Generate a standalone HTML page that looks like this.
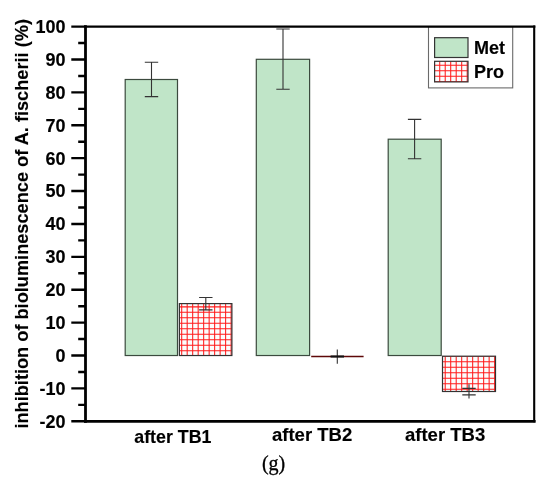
<!DOCTYPE html>
<html><head><meta charset="utf-8">
<style>
html,body{margin:0;padding:0;background:#fff;}
svg{display:block;}
.t{font-family:"Liberation Sans",Arial,sans-serif;font-weight:bold;fill:#000;stroke:#000;stroke-width:0.15px;}
</style></head>
<body>
<svg width="550" height="483" viewBox="0 0 550 483">
<defs>
<clipPath id="ctb1"><rect x="179.4" y="303.6" width="52.50" height="51.92"/></clipPath>
<clipPath id="ctb3"><rect x="442.5" y="356.2" width="53.00" height="35.30"/></clipPath>
<clipPath id="cleg"><rect x="434.6" y="61.3" width="33.40" height="20.60"/></clipPath>
</defs>
<rect width="550" height="483" fill="#fff"/>

<!-- Met bars -->
<g stroke="#3b4a3e" stroke-width="1.2" fill="#c0e5c8">
<rect x="125.2" y="79.5" width="52.3" height="276.02"/>
<rect x="256.3" y="59.3" width="53.3" height="296.22"/>
<rect x="388.2" y="139.2" width="53" height="216.32"/>
</g>
<!-- Pro bars -->
<rect x="179.4" y="303.6" width="52.50" height="51.92" fill="#fbfdfd"/>
<path clip-path="url(#ctb1)" d="M181.70 303.6V355.52M187.19 303.6V355.52M192.68 303.6V355.52M198.17 303.6V355.52M203.66 303.6V355.52M209.15 303.6V355.52M214.64 303.6V355.52M220.13 303.6V355.52M225.62 303.6V355.52M231.11 303.6V355.52M179.4 306.85H231.9M179.4 312.34H231.9M179.4 317.83H231.9M179.4 323.32H231.9M179.4 328.81H231.9M179.4 334.30H231.9M179.4 339.79H231.9M179.4 345.28H231.9M179.4 350.77H231.9" stroke="#ff1c1c" stroke-width="1.05" fill="none"/>
<rect x="179.4" y="303.6" width="52.50" height="51.92" fill="none" stroke="#333" stroke-width="1.2"/>
<rect x="442.5" y="356.2" width="53.00" height="35.30" fill="#fbfdfd"/>
<path clip-path="url(#ctb3)" d="M445.22 356.2V391.5M450.71 356.2V391.5M456.20 356.2V391.5M461.69 356.2V391.5M467.18 356.2V391.5M472.67 356.2V391.5M478.16 356.2V391.5M483.65 356.2V391.5M489.14 356.2V391.5M494.63 356.2V391.5M442.5 356.26H495.5M442.5 361.75H495.5M442.5 367.24H495.5M442.5 372.73H495.5M442.5 378.22H495.5M442.5 383.71H495.5M442.5 389.20H495.5" stroke="#ff1c1c" stroke-width="1.05" fill="none"/>
<rect x="442.5" y="356.2" width="53.00" height="35.30" fill="none" stroke="#333" stroke-width="1.2"/>
<line x1="311.2" y1="356.5" x2="363.6" y2="356.5" stroke="#5e0808" stroke-width="1.6"/>

<!-- error bars -->
<g stroke="#333" stroke-width="1.1" fill="none">
<path d="M151.5 62.3V96.6M144.8 62.3H158.2M144.8 96.6H158.2"/>
<path d="M205.8 297.5V309.9M199.1 297.5H212.5M199.1 309.9H212.5"/>
<path d="M283 29V89.2M276.3 29H289.7M276.3 89.2H289.7"/>
<path d="M337.3 349.5V363.7"/>
<path d="M414.6 119.4V158.8M407.9 119.4H421.3M407.9 158.8H421.3"/>
<path d="M469 384.3V398.6M462.3 388.4H475.7M462.3 394.9H475.7"/>
</g>
<path d="M330.6 356.5H344" stroke="#111" stroke-width="2.1"/>

<!-- legend -->
<rect x="428.5" y="26.6" width="84.2" height="61.30" fill="#fff" stroke="#6a6a6a" stroke-width="1.1"/>
<rect x="434.6" y="37.7" width="33.4" height="19.8" fill="#c0e5c8" stroke="#333" stroke-width="1.2"/>
<rect x="434.6" y="61.3" width="33.40" height="20.60" fill="#fbfdfd"/>
<path clip-path="url(#cleg)" d="M439.73 61.3V81.9M445.22 61.3V81.9M450.71 61.3V81.9M456.20 61.3V81.9M461.69 61.3V81.9M467.18 61.3V81.9M434.6 65.29H468.0M434.6 70.78H468.0M434.6 76.27H468.0M434.6 81.76H468.0" stroke="#ff1c1c" stroke-width="1.05" fill="none"/>
<rect x="434.6" y="61.3" width="33.40" height="20.60" fill="none" stroke="#333" stroke-width="1.2"/>
<text class="t" x="474" y="54" font-size="18">Met</text>
<text class="t" x="474" y="77.5" font-size="18">Pro</text>

<!-- frame -->
<g stroke="#000" stroke-linecap="square">
<path d="M85.5 26.6H534.2" stroke-width="2.3"/>
<path d="M534.2 26.6V421.3" stroke-width="2.1"/>
<path d="M85.5 421.3H534.2" stroke-width="2.8"/>
<path d="M85.5 26.6V421.3" stroke-width="2.8"/>
</g>

<!-- y ticks -->
<g stroke="#000" stroke-width="2.4">
<path d="M71.3 26.60H85.5M71.3 59.49H85.5M71.3 92.38H85.5M71.3 125.28H85.5M71.3 158.17H85.5M71.3 191.06H85.5M71.3 223.95H85.5M71.3 256.84H85.5M71.3 289.73H85.5M71.3 322.62H85.5M71.3 355.52H85.5M71.3 388.41H85.5M71.3 421.30H85.5"/>
<path d="M78.2 43.05H85.5M78.2 75.94H85.5M78.2 108.83H85.5M78.2 141.72H85.5M78.2 174.61H85.5M78.2 207.50H85.5M78.2 240.40H85.5M78.2 273.29H85.5M78.2 306.18H85.5M78.2 339.07H85.5M78.2 371.96H85.5M78.2 404.85H85.5"/>
</g>

<!-- y tick labels -->
<g class="t" font-size="18" text-anchor="end">
<text transform="translate(65.6 33.00) scale(1 1.06)">100</text>
<text transform="translate(65.6 65.89) scale(1 1.06)">90</text>
<text transform="translate(65.6 98.78) scale(1 1.06)">80</text>
<text transform="translate(65.6 131.68) scale(1 1.06)">70</text>
<text transform="translate(65.6 164.57) scale(1 1.06)">60</text>
<text transform="translate(65.6 197.46) scale(1 1.06)">50</text>
<text transform="translate(65.6 230.35) scale(1 1.06)">40</text>
<text transform="translate(65.6 263.24) scale(1 1.06)">30</text>
<text transform="translate(65.6 296.13) scale(1 1.06)">20</text>
<text transform="translate(65.6 329.02) scale(1 1.06)">10</text>
<text transform="translate(65.6 361.92) scale(1 1.06)">0</text>
<text transform="translate(65.6 394.81) scale(1 1.06)">-10</text>
<text transform="translate(65.6 427.70) scale(1 1.06)">-20</text>
</g>

<!-- x labels -->
<g class="t">
<text x="134.3" y="442.6" font-size="17.8">after TB1</text>
<text x="272" y="440.9" font-size="18.5">after TB2</text>
<text x="405" y="440.8" font-size="18.5">after TB3</text>
</g>

<!-- y axis label -->
<text class="t" font-size="18.2" transform="translate(28 428.6) rotate(-90)">inhibition of bioluminescence of A. fischerii (%)</text>

<!-- caption -->
<text x="261.9" y="469.8" font-family="Liberation Serif,serif" font-size="20" fill="#000" stroke="#000" stroke-width="0.3">(g)</text>
</svg>
</body></html>
